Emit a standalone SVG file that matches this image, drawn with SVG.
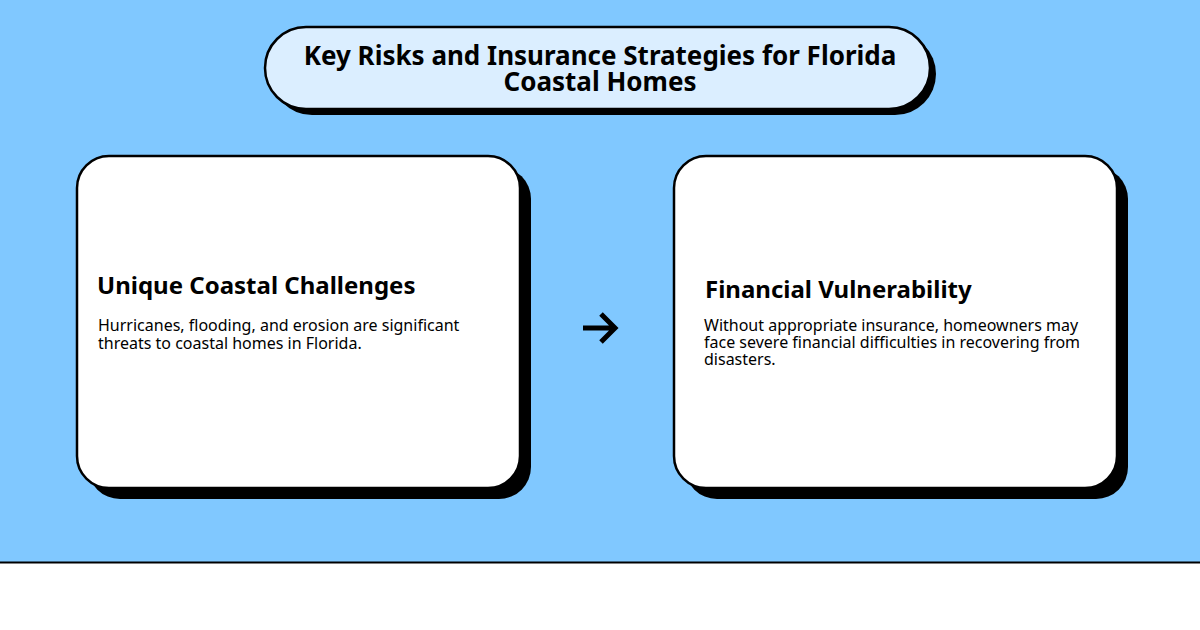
<svg xmlns="http://www.w3.org/2000/svg" width="1200" height="630" viewBox="0 0 1200 630">
<style>
.t{font-family:"Noto Sans",sans-serif;font-weight:bold;font-size:26px;fill:#000}
.h{font-family:"Noto Sans",sans-serif;font-weight:bold;font-size:24px;fill:#000}
.b{font-family:"Noto Sans",sans-serif;font-size:16px;fill:#000}
.card{fill:#fff;stroke:#000;stroke-width:2.5}
</style>
<rect x="0" y="0" width="1200" height="630" fill="#fff"/>
<rect x="0" y="0" width="1200" height="562" fill="#80c8ff"/>
<line x1="0" y1="562.5" x2="1200" y2="562.5" stroke="#000" stroke-width="2"/>
<g id="title">
<rect x="271" y="33" width="665" height="82" rx="41" fill="#000"/>
<rect x="265" y="27" width="665" height="82" rx="41" fill="#dbeeff" stroke="#000" stroke-width="2.5"/>
<text class="t" x="600" y="65" text-anchor="middle">Key Risks and Insurance Strategies for Florida</text>
<text class="t" x="600" y="91" text-anchor="middle">Coastal Homes</text>
</g>
<g id="node1">
<rect x="88" y="167" width="443" height="332" rx="32" fill="#000"/>
<rect class="card" x="77" y="156" width="443" height="332" rx="32"/>
<text class="h" x="97" y="294">Unique Coastal Challenges</text>
<text class="b" x="98" y="331">Hurricanes, flooding, and erosion are significant</text>
<text class="b" x="98" y="349">threats to coastal homes in Florida.</text>
</g>
<g id="node2">
<rect x="685" y="167" width="443" height="332" rx="32" fill="#000"/>
<rect class="card" x="674" y="156" width="443" height="332" rx="32"/>
<text class="h" x="705" y="298">Financial Vulnerability</text>
<text class="b" x="704" y="331">Without appropriate insurance, homeowners may</text>
<text class="b" x="704" y="348">face severe financial difficulties in recovering from</text>
<text class="b" x="704" y="365">disasters.</text>
</g>
<g id="connectors">
<path d="M583 328 H614 M601 314 L615 328 L601 342" fill="none" stroke="#000" stroke-width="5"/>
</g>
</svg>
